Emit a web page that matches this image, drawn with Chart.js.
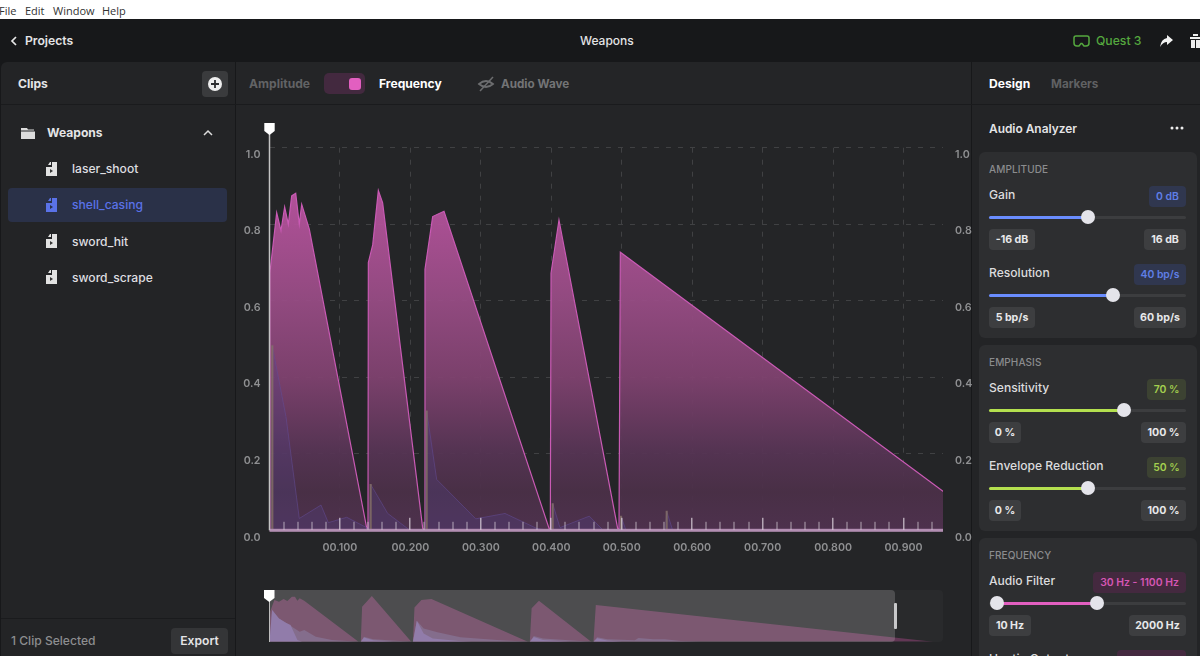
<!DOCTYPE html>
<html><head><meta charset="utf-8">
<script src="https://cdn.jsdelivr.net/npm/chart.js@4"></script>
<style>
*{box-sizing:border-box}
html,body{margin:0;width:1200px;height:656px;overflow:hidden;background:#17181a;font-family:Inter,"Noto Sans",sans-serif;color:#e4e4e6}
.a{position:absolute}
.t{position:absolute;white-space:nowrap;line-height:16px;margin-top:-7.5px}
.menu{position:absolute;top:3px;font:11px/16px "Open Sans",sans-serif;color:#333}
.tab{font-size:12.1px;font-weight:700}
.lab{font-size:12.1px;font-weight:500;color:#dcdcde}
.sec{font-size:10px;font-weight:500;color:#8b8c8e;letter-spacing:.1px}
.box{position:absolute;height:21px;background:#3d3e40;border-radius:4px;font-size:10.6px;font-weight:700;line-height:21px;text-align:center;color:#e8e8ea}
.badge{position:absolute;height:21px;border-radius:4px;font-size:10.4px;font-weight:600;line-height:21px;text-align:center}
.blue{background:#30374f;color:#5f7fe6}.green{background:#3c4232;color:#a4d04f}.pinkb{background:#44293f;color:#d656b4}
.card{position:absolute;left:979px;width:218px;background:#2d2e30;border-radius:6px}
.track{position:absolute;left:989px;width:197px;height:3px;background:#3c3d3f;border-radius:2px}
.fill{position:absolute;height:3px;border-radius:2px}
.knob{position:absolute;width:14px;height:14px;border-radius:50%;background:#e4e4ea;margin:-7px 0 0 -7px}
.item{font-size:12.1px;font-weight:500;color:#dedee0;left:72px}
svg{position:absolute;overflow:visible}
canvas{position:absolute}
</style></head><body>
<div class="a" style="left:0;top:0;width:1200px;height:19px;background:#fff"></div>
<div class="menu" style="left:-1px">File</div><div class="menu" style="left:25px">Edit</div><div class="menu" style="left:53px">Window</div><div class="menu" style="left:102px">Help</div>

<svg style="left:10px;top:36px" width="8" height="10"><path d="M6 1 2 5l4 4" fill="none" stroke="#e8e8e8" stroke-width="1.7"/></svg>
<div class="t" style="left:25px;top:40.500px;font-size:12.2px;font-weight:600">Projects</div>
<div class="t" style="left:580px;top:40.500px;font-size:12px;font-weight:500">Weapons</div>
<svg style="left:1073px;top:35px" width="17" height="13"><path d="M3 1h11q2 0 2 2v5q0 3-3 3h-2l-2-2.500h-1L6 11H4q-3 0-3-3V3q0-2 2-2z" fill="none" stroke="#55a83f" stroke-width="1.500"/></svg>
<div class="t" style="left:1096px;top:40.500px;font-size:12.2px;font-weight:500;color:#55a83f">Quest 3</div>
<svg style="left:1160px;top:35px" width="13" height="12"><path d="M7 0l6 5-6 5V7Q3 7 0 12 1 4 7 3z" fill="#f2f2f2"/></svg>
<svg style="left:1190px;top:34px" width="12" height="14"><path d="M0 3h12v2H0zM1 6h4v8H1zM6 6h5v8H6zM3 0h5v2H3z" fill="#eee"/></svg>

<!-- panels -->
<div class="a" style="left:1px;top:62px;width:234px;height:594px;background:#232426;border-radius:6px 0 0 0"></div>
<div class="a" style="left:236px;top:62px;width:735px;height:594px;background:#242527"></div>
<div class="a" style="left:972px;top:62px;width:228px;height:594px;background:#232426"></div>
<div class="a" style="left:1px;top:104px;width:1199px;height:1px;background:#1a1b1d"></div>
<div class="a" style="left:1px;top:618px;width:234px;height:1px;background:#1a1b1d"></div>

<!-- left -->
<div class="t" style="left:18px;top:83.500px;font-size:12.1px;font-weight:700">Clips</div>
<div class="a" style="left:202px;top:71px;width:26px;height:26px;background:#3a3b3d;border-radius:4px"></div>
<svg style="left:208px;top:77px" width="14" height="14"><circle cx="7" cy="7" r="7" fill="#eee"/><path d="M7 3v8M3 7h8" stroke="#2c2d2f" stroke-width="1.800"/></svg>
<svg style="left:21px;top:127px" width="14" height="12"><path d="M0 1h6l1 1.500h6v1H0zM0 4.500h14V12H0z" fill="#dcdcdc"/></svg>
<div class="t" style="left:47px;top:132.500px;font-size:12.1px;font-weight:700">Weapons</div>
<svg style="left:203px;top:130px" width="10" height="6"><path d="M1 5l4-4 4 4" fill="none" stroke="#ddd" stroke-width="1.500"/></svg>
<div class="a" style="left:8px;top:188px;width:219px;height:34px;background:#2a3148;border-radius:4px"></div>
<svg style="left:46px;top:162px" width="11" height="14"><path d="M4 0h1v3H2zM6 0h5v14H0V5h6z" fill="#e2e2e2"/><path d="M4 7v4l3-2z" fill="#333"/></svg>
<svg style="left:46px;top:198px" width="11" height="14"><path d="M4 0h1v3H2zM6 0h5v14H0V5h6z" fill="#5a72e8"/><path d="M4 7v4l3-2z" fill="#2a3148"/></svg>
<svg style="left:46px;top:234px" width="11" height="14"><path d="M4 0h1v3H2zM6 0h5v14H0V5h6z" fill="#e2e2e2"/><path d="M4 7v4l3-2z" fill="#333"/></svg>
<svg style="left:46px;top:270px" width="11" height="14"><path d="M4 0h1v3H2zM6 0h5v14H0V5h6z" fill="#e2e2e2"/><path d="M4 7v4l3-2z" fill="#333"/></svg>
<div class="t item" style="top:168.500px">laser_shoot</div>
<div class="t item" style="top:204.500px;color:#5a72e8">shell_casing</div>
<div class="t item" style="top:241.500px">sword_hit</div>
<div class="t item" style="top:277.500px">sword_scrape</div>
<div class="t" style="left:11px;top:640.500px;font-size:12.1px;font-weight:500;color:#8d8e90">1 Clip Selected</div>
<div class="a" style="left:171px;top:628px;width:57px;height:26px;background:#343537;border-radius:4px;font-size:12.1px;font-weight:600;line-height:26px;text-align:center">Export</div>

<!-- centre header -->
<div class="t tab" style="left:249px;top:83.500px;color:#626365">Amplitude</div>
<div class="a" style="left:324px;top:73px;width:41px;height:21px;background:#43293f;border-radius:5px"></div>
<div class="a" style="left:349px;top:78px;width:12px;height:12px;background:#e25fc0;border-radius:3px"></div>
<div class="t tab" style="left:379px;top:83.500px;color:#fff">Frequency</div>
<svg style="left:478px;top:76px" width="16" height="16"><path d="M1 8q7-6 14 0-7 6-14 0z" fill="none" stroke="#6c6d6f" stroke-width="1.800"/><path d="M2 15 15 1" stroke="#6c6d6f" stroke-width="1.500"/></svg>
<div class="t tab" style="left:501px;top:83.500px;color:#737476;font-size:11.7px">Audio Wave</div>

<!-- right -->
<div class="t tab" style="left:989px;top:83.500px;color:#fff">Design</div>
<div class="t tab" style="left:1051px;top:83.500px;color:#606163;font-size:11.7px">Markers</div>
<div class="t" style="left:989px;top:128px;font-size:11.9px;font-weight:600">Audio Analyzer</div>
<svg style="left:1170px;top:126px" width="14" height="4"><circle cx="2" cy="2" r="1.500" fill="#eee"/><circle cx="7" cy="2" r="1.500" fill="#eee"/><circle cx="12" cy="2" r="1.500" fill="#eee"/></svg>

<div class="card" style="top:152px;height:186px"></div>
<div class="card" style="top:345px;height:186px"></div>
<div class="card" style="top:538px;height:130px"></div>

<div class="t sec" style="left:989px;top:168.500px">AMPLITUDE</div>
<div class="t lab" style="left:989px;top:194.500px">Gain</div>
<div class="badge blue" style="left:1149px;top:186px;width:37px">0 dB</div>
<div class="track" style="top:216px"></div><div class="fill" style="left:989px;top:216px;width:99px;background:#6a8dff"></div><div class="knob" style="left:1088px;top:217px"></div>
<div class="box" style="left:989px;top:229px;width:46px">-16 dB</div><div class="box" style="left:1144px;top:229px;width:42px">16 dB</div>
<div class="t lab" style="left:989px;top:272px">Resolution</div>
<div class="badge blue" style="left:1134px;top:264px;width:52px">40 bp/s</div>
<div class="track" style="top:294px"></div><div class="fill" style="left:989px;top:294px;width:124px;background:#6a8dff"></div><div class="knob" style="left:1113px;top:295px"></div>
<div class="box" style="left:989px;top:307px;width:46px">5 bp/s</div><div class="box" style="left:1134px;top:307px;width:52px">60 bp/s</div>

<div class="t sec" style="left:989px;top:361.500px">EMPHASIS</div>
<div class="t lab" style="left:989px;top:387.500px">Sensitivity</div>
<div class="badge green" style="left:1147px;top:379px;width:39px">70 %</div>
<div class="track" style="top:409px"></div><div class="fill" style="left:989px;top:409px;width:135px;background:#b4e04f"></div><div class="knob" style="left:1124px;top:410px"></div>
<div class="box" style="left:989px;top:422px;width:32px">0 %</div><div class="box" style="left:1141px;top:422px;width:45px">100 %</div>
<div class="t lab" style="left:989px;top:465px">Envelope Reduction</div>
<div class="badge green" style="left:1147px;top:457px;width:39px">50 %</div>
<div class="track" style="top:487px"></div><div class="fill" style="left:989px;top:487px;width:99px;background:#b4e04f"></div><div class="knob" style="left:1088px;top:488px"></div>
<div class="box" style="left:989px;top:500px;width:32px">0 %</div><div class="box" style="left:1141px;top:500px;width:45px">100 %</div>

<div class="t sec" style="left:989px;top:554.500px">FREQUENCY</div>
<div class="t lab" style="left:989px;top:580.500px">Audio Filter</div>
<div class="badge pinkb" style="left:1093px;top:572px;width:93px">30 Hz - 1100 Hz</div>
<div class="track" style="top:602px"></div><div class="fill" style="left:997px;top:602px;width:100px;background:#e25fc0"></div><div class="knob" style="left:997px;top:603px"></div><div class="knob" style="left:1097px;top:603px"></div>
<div class="box" style="left:989px;top:615px;width:42px">10 Hz</div><div class="box" style="left:1129px;top:615px;width:57px">2000 Hz</div>
<div class="t lab" style="left:989px;top:658px">Haptic Output</div>
<div class="badge pinkb" style="left:1117px;top:650px;width:69px"></div>

<canvas id="main" width="735" height="450" style="left:240px;top:110px;width:735px;height:450px"></canvas>
<div class="a" style="left:269px;top:590px;width:674px;height:52px;background:#292a2c;border-radius:4px"></div>
<canvas id="over" width="720" height="76" style="left:240px;top:580px;width:720px;height:76px"></canvas>
<div class="a" style="left:269px;top:590px;width:626px;height:52px;background:rgba(255,255,255,.17);border-radius:0 4px 4px 0"></div>
<div class="a" style="left:893.500px;top:603px;width:3px;height:26px;background:#c8c8ca;border-radius:1px"></div>
<div class="a" style="left:268.750px;top:598px;width:1.500px;height:44px;background:#bdbdbd"></div>
<svg style="left:264px;top:590px" width="11" height="12"><path d="M0 0h10.500v8L5.250 12 0 8z" fill="#fff"/></svg>

<script>
const freqT=[0,0.0005,0.0102,0.0163,0.0215,0.0267,0.0315,0.0372,0.0423,0.0457,0.0565,0.138,0.1398,0.1403,0.1465,0.1545,0.1606,0.2175,0.2197,0.2207,0.2316,0.2477,0.3972,0.3986,0.3996,0.4109,0.4942,0.4961,0.498,1.0307];
const freqV=[0,0.672,0.83,0.783,0.845,0.80,0.874,0.881,0.80,0.852,0.787,0.006,0,0.70,0.746,0.888,0.856,0.005,0,0.682,0.82,0.834,0.003,0,0.672,0.811,0.005,0,0.727,0];
const lowT=[0.003,0.004,0.0078,0.0234,0.0423,0.0731,0.0835,0.1096,0.138,0.142,0.1436,0.1678,0.1994,0.221,0.2231,0.2373,0.2927,0.3343,0.3793,0.3972,0.4005,0.402,0.4123,0.4539,0.4738,0.4975,0.499,0.506,0.562,0.5638,0.5723];
const lowV=[0,0.483,0.445,0.297,0.031,0.066,0.02,0.034,0.007,0,0.12,0.044,0,0,0.312,0.133,0.03,0.044,0.005,0,0,0.07,0.007,0.037,0,0,0.037,0,0,0.05,0];
const spikeT=[0.004,0.1436,0.2231,0.402,0.499,0.5638];
const spikeV=[0.483,0.12,0.312,0.07,0.037,0.05];
const minorTicks=[0.02,0.04,0.06,0.08,0.12,0.14,0.16,0.18,0.22,0.24,0.26,0.28,0.32,0.34,0.36,0.38,0.42,0.44,0.46,0.48,0.52,0.54,0.56,0.58,0.62,0.64,0.66,0.68,0.72,0.74,0.76,0.78,0.82,0.84,0.86,0.88,0.92,0.94];
const majorTicks=[0.1,0.2,0.3,0.4,0.5,0.6,0.7,0.8,0.9];
const xTickLabels=['','00.100','00.200','00.300','00.400','00.500','00.600','00.700','00.800','00.900'];
const yTickLabels=['0.0','0.2','0.4','0.6','0.8','1.0'];

const overFreqT=[0,0.001,0.0075,0.0145,0.0216,0.0273,0.0343,0.039,0.0427,0.0462,0.0532,0.1363,0.1398,0.1418,0.1567,0.2171,0.2197,0.222,0.2326,0.248,0.3957,0.3986,0.4014,0.4126,0.4926,0.4961,0.4997,1.0165];
const overFreqV=[0,0.59,0.817,0.784,0.837,0.797,0.882,0.882,0.804,0.85,0.804,0,0,0.686,0.895,0,0,0.673,0.817,0.837,0,0,0.654,0.804,0,0,0.719,0];
const overMidT=[0,0.004,0.0145,0.025,0.0462,0.0532,0.0709,0.0955,0.1363,0.1398,0.1447,0.1587,0.2171,0.2197,0.2256,0.2361,0.2571,0.2923,0.3485,0.3957,0.3986,0.4047,0.4188,0.4926,0.4961,0.5018,0.5172,0.5595,0.565,0.5875,0.605,0.63,0.66];
const overMidV=[0,0.62,0.457,0.373,0.196,0.229,0.098,0.033,0,0,0.098,0.046,0,0,0.412,0.261,0.183,0.085,0.033,0,0,0.111,0.065,0,0,0.085,0.046,0.026,0.072,0.046,0.046,0.013,0];
const overLowT=[0,0.004,0.0145,0.025,0.0322,0.0427,0.05,0.1398,0.1447,0.1587,0.19,0.2197,0.2256,0.2361,0.25,0.29,0.31,0.3986,0.4047,0.4188,0.46,0.4961,0.5018,0.5172,0.54];
const overLowV=[0,0.62,0.457,0.373,0.327,0.033,0,0,0.08,0.03,0,0,0.412,0.16,0.065,0.013,0,0,0.09,0.035,0,0,0.07,0.025,0];

const pts=(t,v)=>t.map((x,i)=>({x,y:v[i]}));
const grad=ctx=>{const a=ctx.chart.chartArea;if(!a)return 'rgba(150,75,130,.9)';
  const g=ctx.chart.ctx.createLinearGradient(0,a.top,0,a.bottom);
  g.addColorStop(0.1,'rgba(188,84,162,.94)');g.addColorStop(0.4,'rgba(152,76,133,.94)');
  g.addColorStop(0.6,'rgba(128,66,112,.94)');g.addColorStop(0.8,'rgba(86,52,84,.94)');
  g.addColorStop(0.9,'rgba(75,48,72,.94)');g.addColorStop(1,'rgba(80,50,80,.94)');return g;};
const ink={id:'ink',afterDatasetsDraw(c){
  const x=c.scales.x,y=c.scales.y,g=c.ctx,b=y.getPixelForValue(0);
  g.save();
  g.fillStyle='#b28eb2';g.fillRect(x.left,b-1.5,x.right-x.left,3);
  g.fillStyle='rgba(225,215,225,.7)';
  minorTicks.forEach(t=>g.fillRect(Math.round(x.getPixelForValue(t))-.5,b-8.5,1,8));
  majorTicks.forEach(t=>g.fillRect(Math.round(x.getPixelForValue(t))-1,b-12.5,1.5,12));
  const p=x.getPixelForValue(0);
  g.fillStyle='#c4c4c4';g.fillRect(p-.75,24,1.5,b-24);
  g.fillStyle='#fff';g.beginPath();g.moveTo(p-5.2,13);g.lineTo(p+5.2,13);g.lineTo(p+5.2,21);g.lineTo(p,25);g.lineTo(p-5.2,21);g.closePath();g.fill();
  g.restore();}};
const font={family:'Inter',size:10.7,weight:'600'};
new Chart(document.getElementById('main'),{type:'line',
 data:{datasets:[
  {type:'bar',data:pts(spikeT,spikeV),backgroundColor:'rgba(140,120,100,.7)',barThickness:1.5,order:1},
  {data:pts(lowT,lowV),borderColor:'rgba(100,76,150,.55)',backgroundColor:'rgba(82,66,135,.3)',borderWidth:1,pointRadius:0,tension:0,fill:'origin',order:2},
  {data:pts(freqT,freqV),borderColor:'#c95ab4',backgroundColor:grad,borderWidth:1.2,pointRadius:0,tension:0,fill:'origin',order:3}
 ]},
 options:{responsive:false,animation:false,devicePixelRatio:1,
  layout:{padding:{top:37.7,bottom:0,left:0,right:0}},
  plugins:{legend:{display:false},tooltip:{enabled:false}},
  scales:{
   x:{type:'linear',min:0,max:0.956,offset:false,afterFit:s=>{s.height=29.7},
      grid:{color:'#404143',offset:false,drawTicks:false,tickLength:0},border:{display:false,dash:[5,7]},
      ticks:{stepSize:0.1,includeBounds:false,padding:11,maxRotation:0,autoSkip:false,color:'#8f9092',font,
             callback:(v)=>xTickLabels[Math.round(v*10)]}},
   y:{min:0,max:1,position:'left',afterFit:s=>{s.width=29.5},
      grid:{color:'#404143',drawTicks:false},border:{display:false,dash:[5,7]},
      ticks:{stepSize:0.2,padding:9,labelOffset:7,color:'#8f9092',font,callback:(v)=>yTickLabels[Math.round(v*5)]}},
   yRight:{min:0,max:1,position:'right',afterFit:s=>{s.width=32},
      grid:{display:false,drawTicks:false},border:{display:false},
      ticks:{stepSize:0.2,padding:12,labelOffset:7,color:'#8f9092',font,callback:(v)=>yTickLabels[Math.round(v*5)]}}
  }},plugins:[ink]});

new Chart(document.getElementById('over'),{type:'line',
 data:{datasets:[
  {data:pts(overLowT,overLowV),borderWidth:0,backgroundColor:'rgb(123,98,153)',pointRadius:0,tension:0,fill:'origin',order:1},
  {data:pts(overMidT,overMidV),borderWidth:0,backgroundColor:'rgb(108,80,117)',pointRadius:0,tension:0,fill:'origin',order:2},
  {data:pts(overFreqT,overFreqV),borderWidth:0,backgroundColor:'rgb(98,55,85)',pointRadius:0,tension:0,fill:'origin',order:3}
 ]},
 options:{responsive:false,animation:false,devicePixelRatio:1,
  layout:{padding:{top:10.7,bottom:14.3,left:29.5,right:17.9}},
  plugins:{legend:{display:false},tooltip:{enabled:false}},
  scales:{x:{type:'linear',min:0,max:1.03,display:false},y:{min:0,max:1,display:false}}}});
</script>
</body></html>
